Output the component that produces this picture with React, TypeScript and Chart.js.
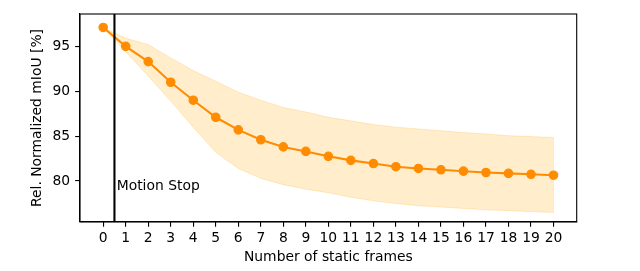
import { useEffect, useRef } from "react";
import { Chart, registerables } from "chart.js";

Chart.register(...registerables);

// ---- data ----
const frames: number[] = [0, 1, 2, 3, 4, 5, 6, 7, 8, 9, 10, 11, 12, 13, 14, 15, 16, 17, 18, 19, 20];
const meanVals: number[] = [97.1, 95.0, 93.3, 91.0, 89.0, 87.1, 85.7, 84.6, 83.8, 83.3, 82.75, 82.3, 81.95, 81.6, 81.4, 81.25, 81.1, 80.95, 80.85, 80.75, 80.65];
const upperVals: number[] = [97.1, 95.9, 95.2, 93.7, 92.3, 91.1, 89.9, 89.0, 88.2, 87.7, 87.1, 86.7, 86.3, 86.0, 85.8, 85.6, 85.4, 85.25, 85.05, 84.95, 84.85];
const lowerVals: number[] = [97.1, 94.4, 91.7, 88.9, 86.0, 83.2, 81.4, 80.3, 79.6, 79.1, 78.7, 78.2, 77.8, 77.5, 77.25, 77.1, 76.95, 76.8, 76.7, 76.6, 76.5];
const xTicks: number[] = frames;
const yTicks: number[] = [80, 85, 90, 95];
const xRange: number[] = [-1.03, 21.03];
const yRange: number[] = [75.44, 98.6];
const motionStopX = 0.5;
const motionLabel = "Motion Stop";
const motionLabelX = 0.6;
const motionLabelY = 79.0;
const xTitle = "Number of static frames";
const yTitle = "Rel. Normalized mIoU [%]";

const FONT = "DejaVu Sans";
const FS = 13.89;
const MAIN = "#ff8c00";
const BAND = "rgba(255,165,0,0.2)";

const overlay = {
  id: "overlay",
  afterDatasetsDraw(chart: any) {
    const { ctx, chartArea, scales } = chart;
    const { top, bottom } = chartArea;
    const x = scales.x;
    const y = scales.y;
    ctx.save();
    // band end edge (as drawn by fill_between's outline)
    const xe = x.getPixelForValue(frames[frames.length - 1]);
    ctx.strokeStyle = BAND;
    ctx.lineWidth = 1;
    ctx.beginPath();
    ctx.moveTo(xe, y.getPixelForValue(upperVals[upperVals.length - 1]));
    ctx.lineTo(xe, y.getPixelForValue(lowerVals[lowerVals.length - 1]));
    ctx.stroke();
    const px = x.getPixelForValue(motionStopX);
    ctx.strokeStyle = "#000";
    ctx.lineWidth = 2.08;
    ctx.beginPath();
    ctx.moveTo(px, top);
    ctx.lineTo(px, bottom);
    ctx.stroke();
    ctx.font = `${FS}px "${FONT}"`;
    ctx.fillStyle = "#000";
    ctx.textAlign = "left";
    ctx.textBaseline = "alphabetic";
    ctx.fillText(motionLabel, x.getPixelForValue(motionLabelX), y.getPixelForValue(motionLabelY));
    ctx.restore();
  },
  afterDraw(chart: any) {
    const { ctx, chartArea } = chart;
    const { left, right, top, bottom } = chartArea;
    ctx.save();
    ctx.strokeStyle = "#000";
    ctx.lineWidth = 1.1;
    ctx.strokeRect(left, top, right - left, bottom - top);
    ctx.restore();
  },
};

export default function App() {
  const ref = useRef<HTMLCanvasElement | null>(null);

  useEffect(() => {
    if (!ref.current) return;
    Chart.defaults.font.family = FONT;
    Chart.defaults.font.size = FS;
    Chart.defaults.color = "#000";

    const pts = (vals: number[]) => frames.map((f, i) => ({ x: f, y: vals[i] }));

    const chart = new Chart(ref.current, {
      type: "line",
      data: {
        datasets: [
          {
            label: "mean",
            data: pts(meanVals),
            borderColor: MAIN,
            backgroundColor: MAIN,
            borderWidth: 2.08,
            pointRadius: 4.2,
            pointBackgroundColor: MAIN,
            pointBorderColor: MAIN,
            pointBorderWidth: 1.2,
            fill: false,
            tension: 0,
          },
          {
            label: "lower",
            data: pts(lowerVals),
            borderColor: BAND,
            borderWidth: 1,
            pointRadius: 0,
            fill: false,
          },
          {
            label: "upper",
            data: pts(upperVals),
            borderColor: BAND,
            backgroundColor: BAND,
            borderWidth: 1,
            pointRadius: 0,
            fill: 1,
          },
        ],
      },
      options: {
        animation: false,
        responsive: false,
        devicePixelRatio: 1,
        layout: { padding: { left: 0, right: 63.3, top: 14, bottom: 0 } },
        plugins: { legend: { display: false }, tooltip: { enabled: false } },
        scales: {
          x: {
            type: "linear",
            min: xRange[0],
            max: xRange[1],
            afterBuildTicks: (s: any) => {
              s.ticks = xTicks.map((v) => ({ value: v }));
            },
            afterFit: (s: any) => {
              s.height = 49;
            },
            ticks: {
              padding: 2.8,
              autoSkip: false,
              maxRotation: 0,
              font: { family: FONT, size: FS },
              color: "#000",
              callback: (v: any) => String(v),
            },
            grid: {
              display: true,
              drawOnChartArea: false,
              drawTicks: true,
              tickLength: 4.86,
              color: "#000",
              lineWidth: 1.1,
            },
            border: { display: true, color: "#000", width: 1.1 },
            title: {
              display: true,
              text: xTitle,
              font: { family: FONT, size: FS },
              color: "#000",
              padding: { top: 0, bottom: 5.7 },
            },
          },
          y: {
            type: "linear",
            min: yRange[0],
            max: yRange[1],
            afterBuildTicks: (s: any) => {
              s.ticks = yTicks.map((v) => ({ value: v }));
            },
            afterFit: (s: any) => {
              s.width = 80;
            },
            ticks: {
              padding: 5.1,
              font: { family: FONT, size: FS },
              color: "#000",
              callback: (v: any) => String(v),
            },
            grid: {
              display: true,
              drawOnChartArea: false,
              drawTicks: true,
              tickLength: 4.86,
              color: "#000",
              lineWidth: 1.1,
            },
            border: { display: true, color: "#000", width: 1.1 },
            title: {
              display: true,
              text: yTitle,
              font: { family: FONT, size: FS },
              color: "#000",
              padding: { top: 28.7, bottom: 0 },
            },
          },
        },
      },
      plugins: [overlay],
    });
    return () => chart.destroy();
  }, []);

  return (
    <div style={{ position: "absolute", left: 0, top: 0, width: 640, height: 271, background: "#fff" }}>
      <canvas ref={ref} width={640} height={271} style={{ display: "block", width: 640, height: 271 }} />
    </div>
  );
}
